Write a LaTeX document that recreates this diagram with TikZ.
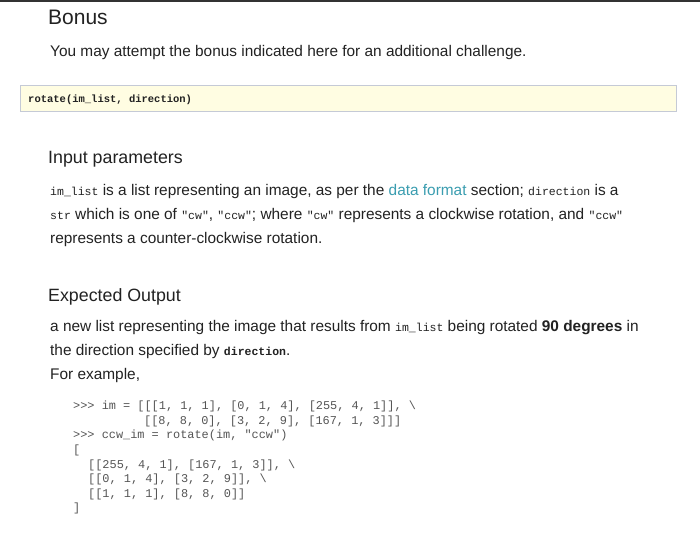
\documentclass[tikz,border=0pt]{standalone}
\usepackage{fontspec}
\setmainfont{Liberation Sans}
\setmonofont{Liberation Mono}
\definecolor{txt}{HTML}{222222}
\definecolor{codec}{HTML}{555555}
\definecolor{link}{HTML}{3A9DB0}
\definecolor{boxfill}{HTML}{FFFDE2}
\definecolor{boxline}{HTML}{C5CAD6}
\newcommand{\mc}[1]{{\fontsize{11.5}{12}\ttfamily #1}}
\begin{document}
\begin{tikzpicture}[x=1pt,y=-1pt,
  body/.style={anchor=base west,inner sep=0pt,text=txt,font=\fontsize{15.4}{17}\selectfont},
  head/.style={anchor=base west,inner sep=0pt,text=txt,font=\fontsize{17.8}{20}\selectfont},
  code/.style={anchor=base west,inner sep=0pt,text=codec,font=\fontsize{11.9}{14}\ttfamily}]
\useasboundingbox (0,0) rectangle (700,548);
\fill[white] (0,0) rectangle (700,548);
\fill[black!80] (0,0) rectangle (700,2);
\node[body,font=\fontsize{21}{24}\selectfont] (t) at (48,25) {Bonus};
\node[body] (p0) at (50,57) {You may attempt the bonus indicated here for an additional challenge.};
\draw[boxline,fill=boxfill,line width=1pt] (20,86) rectangle (676,112);
\node[anchor=base west,inner sep=0pt,text=txt,font=\fontsize{10.5}{12}\ttfamily\bfseries] (sig) at (28,103) {rotate(im\_list, direction)};
\node[head] (h1) at (48,164) {Input parameters};
\node[body] (l1) at (50,195) {\mc{im\_list} is a list representing an image, as per the \textcolor{link}{data format} section; \mc{direction} is a};
\node[body] (l2) at (50,219) {\mc{str} which is one of \mc{"cw"}, \mc{"ccw"}; where \mc{"cw"} represents a clockwise rotation, and \mc{"ccw"}};
\node[body] (l3) at (50,243) {represents a counter-clockwise rotation.};
\node[head] (h2) at (48,301) {Expected Output};
\node[body] (m1) at (50,331) {a new list representing the image that results from \mc{im\_list} being rotated \textbf{90 degrees} in};
\node[body] (m2) at (50,355) {the direction specified by \mc{\bfseries direction}.};
\node[body] (m3) at (50,379) {For example,};
\node[code] (c1) at (73,409) {>{}>{}> im = [[[1, 1, 1], [0, 1, 4], [255, 4, 1]], \textbackslash};
\node[code] (c2) at (144,424) {[[8, 8, 0], [3, 2, 9], [167, 1, 3]]]};
\node[code] (c3) at (73,438) {>{}>{}> ccw\_im = rotate(im, "ccw")};
\node[code] (c4) at (73,453) {[};
\node[code] (c5) at (88,468) {[[255, 4, 1], [167, 1, 3]], \textbackslash};
\node[code] (c6) at (88,482) {[[0, 1, 4], [3, 2, 9]], \textbackslash};
\node[code] (c7) at (88,497) {[[1, 1, 1], [8, 8, 0]]};
\node[code] (c8) at (73,511) {]};
\end{tikzpicture}
\end{document}
